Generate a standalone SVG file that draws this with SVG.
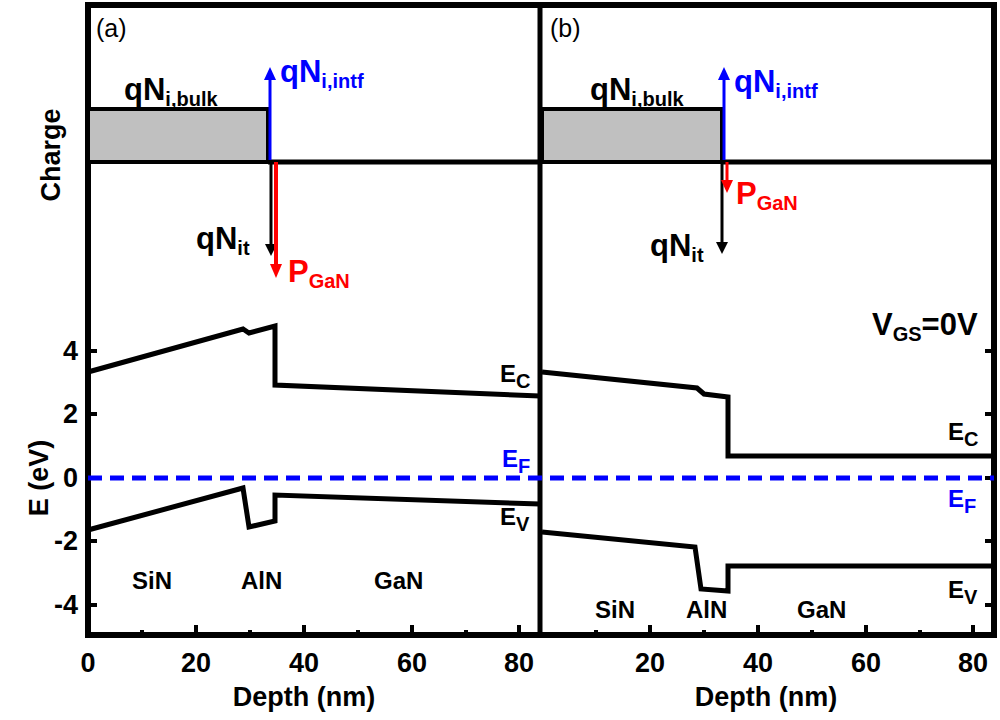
<svg xmlns="http://www.w3.org/2000/svg" width="1000" height="720" viewBox="0 0 1000 720">
<style>
text{font-family:"Liberation Sans Narrow","Liberation Sans",Arial,sans-serif;font-weight:bold;fill:#000}
.ax{font-size:27px}
.lb{font-size:24px}
.big{font-size:31px}
.sub{font-size:20px}
.c{fill:none;stroke:#000;stroke-width:5;stroke-linejoin:miter}
.t{stroke:#000;stroke-width:4}
</style>
<rect x="0" y="0" width="1000" height="720" fill="#fff"/>
<rect x="88" y="5" width="906" height="630" fill="none" stroke="#000" stroke-width="6"/>
<line x1="540" y1="5" x2="540" y2="635" stroke="#000" stroke-width="5"/>
<g class="t">
<line x1="88" y1="351" x2="97" y2="351"/><line x1="88" y1="414" x2="97" y2="414"/><line x1="88" y1="478" x2="97" y2="478"/><line x1="88" y1="541" x2="97" y2="541"/><line x1="88" y1="605" x2="97" y2="605"/>
<line x1="994" y1="351" x2="985" y2="351"/><line x1="994" y1="414" x2="985" y2="414"/><line x1="994" y1="478" x2="985" y2="478"/><line x1="994" y1="541" x2="985" y2="541"/><line x1="994" y1="605" x2="985" y2="605"/>
<line x1="142" y1="635" x2="142" y2="630"/><line x1="196" y1="635" x2="196" y2="625"/><line x1="250" y1="635" x2="250" y2="630"/><line x1="304" y1="635" x2="304" y2="625"/><line x1="358" y1="635" x2="358" y2="630"/><line x1="412" y1="635" x2="412" y2="625"/><line x1="466" y1="635" x2="466" y2="630"/><line x1="519" y1="635" x2="519" y2="625"/>
<line x1="596" y1="635" x2="596" y2="630"/><line x1="650" y1="635" x2="650" y2="625"/><line x1="704" y1="635" x2="704" y2="630"/><line x1="758" y1="635" x2="758" y2="625"/><line x1="812" y1="635" x2="812" y2="630"/><line x1="866" y1="635" x2="866" y2="625"/><line x1="920" y1="635" x2="920" y2="630"/><line x1="973" y1="635" x2="973" y2="625"/>
</g>
<g class="ax">
<text x="78" y="360" text-anchor="end">4</text><text x="78" y="423" text-anchor="end">2</text><text x="78" y="487" text-anchor="end">0</text><text x="78" y="550" text-anchor="end">-2</text><text x="78" y="614" text-anchor="end">-4</text>
<text x="88" y="672" text-anchor="middle">0</text><text x="196" y="672" text-anchor="middle">20</text><text x="304" y="672" text-anchor="middle">40</text><text x="412" y="672" text-anchor="middle">60</text><text x="519" y="672" text-anchor="middle">80</text>
<text x="650" y="672" text-anchor="middle">20</text><text x="758" y="672" text-anchor="middle">40</text><text x="866" y="672" text-anchor="middle">60</text><text x="973" y="672" text-anchor="middle">80</text>
<text x="304" y="706" text-anchor="middle">Depth (nm)</text><text x="766" y="706" text-anchor="middle">Depth (nm)</text>
<text transform="translate(60,155) rotate(-90)" text-anchor="middle">Charge</text>
<text transform="translate(48,478) rotate(-90)" text-anchor="middle">E (eV)</text>
</g>
<text x="96" y="37" style="font-family:'Liberation Sans',Arial,sans-serif;font-weight:normal;font-size:25px">(a)</text>
<text x="550" y="37" style="font-family:'Liberation Sans',Arial,sans-serif;font-weight:normal;font-size:25px">(b)</text>
<g id="charge-a">
<rect x="88" y="109" width="180" height="53" fill="#c0c0c0" stroke="#000" stroke-width="4"/>
<line x1="268" y1="162" x2="540" y2="162" stroke="#000" stroke-width="5"/>
<line x1="271" y1="162" x2="271" y2="246" stroke="#000" stroke-width="3"/>
<polygon points="265,244 277,244 271,256" fill="#000"/>
<line x1="276" y1="162" x2="276" y2="266" stroke="#f00" stroke-width="4"/>
<polygon points="270,264 282,264 276,278" fill="#f00"/>
<line x1="270" y1="160" x2="270" y2="78" stroke="#00f" stroke-width="3"/>
<polygon points="264,80 276,80 270,67" fill="#00f"/>
<text class="big" x="124" y="100">qN<tspan class="sub" dy="6">i,bulk</tspan></text>
<text class="big" x="280" y="82" style="fill:#00f">qN<tspan class="sub" dy="6">i,intf</tspan></text>
<text class="big" x="196" y="249">qN<tspan class="sub" dy="6">it</tspan></text>
<text class="big" x="288" y="282" style="fill:#f00">P<tspan class="sub" dy="6">GaN</tspan></text>
</g>
<g id="charge-b">
<rect x="542" y="109" width="180" height="53" fill="#c0c0c0" stroke="#000" stroke-width="4"/>
<line x1="722" y1="162" x2="994" y2="162" stroke="#000" stroke-width="5"/>
<line x1="722" y1="162" x2="722" y2="244" stroke="#000" stroke-width="3"/>
<polygon points="716,242 728,242 722,254" fill="#000"/>
<line x1="727" y1="162" x2="727" y2="182" stroke="#f00" stroke-width="3"/>
<polygon points="721,180 733,180 727,193" fill="#f00"/>
<line x1="724" y1="160" x2="724" y2="78" stroke="#00f" stroke-width="3"/>
<polygon points="718,80 730,80 724,67" fill="#00f"/>
<text class="big" x="590" y="100">qN<tspan class="sub" dy="6">i,bulk</tspan></text>
<text class="big" x="734" y="92" style="fill:#00f">qN<tspan class="sub" dy="6">i,intf</tspan></text>
<text class="big" x="650" y="256">qN<tspan class="sub" dy="6">it</tspan></text>
<text class="big" x="736" y="204" style="fill:#f00">P<tspan class="sub" dy="6">GaN</tspan></text>
</g>
<g id="bands">
<polyline class="c" points="88,372 243,329 249,333 275,326 275,385 540,396"/>
<polyline class="c" points="88,530 243,488 249,527 275,521 275,495 540,504"/>
<polyline class="c" points="542,372 697,388 704,394 728,397 728,456 994,456"/>
<polyline class="c" points="542,532 695,547 701,589 728,591 728,566 994,566"/>
<line x1="88" y1="478" x2="994" y2="478" stroke="#00f" stroke-width="5" stroke-dasharray="14,8"/>
</g>
<g class="lb">
<text x="500" y="382">E<tspan class="sub" dy="6">C</tspan></text>
<text x="500" y="525">E<tspan class="sub" dy="6">V</tspan></text>
<text x="948" y="440">E<tspan class="sub" dy="6">C</tspan></text>
<text x="948" y="598">E<tspan class="sub" dy="6">V</tspan></text>
<text x="502" y="467" style="fill:#00f">E<tspan class="sub" dy="6">F</tspan></text>
<text x="948" y="507" style="fill:#00f">E<tspan class="sub" dy="6">F</tspan></text>
<text x="132" y="589">SiN</text><text x="241" y="589">AlN</text><text x="374" y="589">GaN</text>
<text x="595" y="618">SiN</text><text x="686" y="618">AlN</text><text x="797" y="618">GaN</text>
<text class="big" x="872" y="335">V<tspan class="sub" dy="6">GS</tspan><tspan dy="-6">=0V</tspan></text>
</g>
</svg>
